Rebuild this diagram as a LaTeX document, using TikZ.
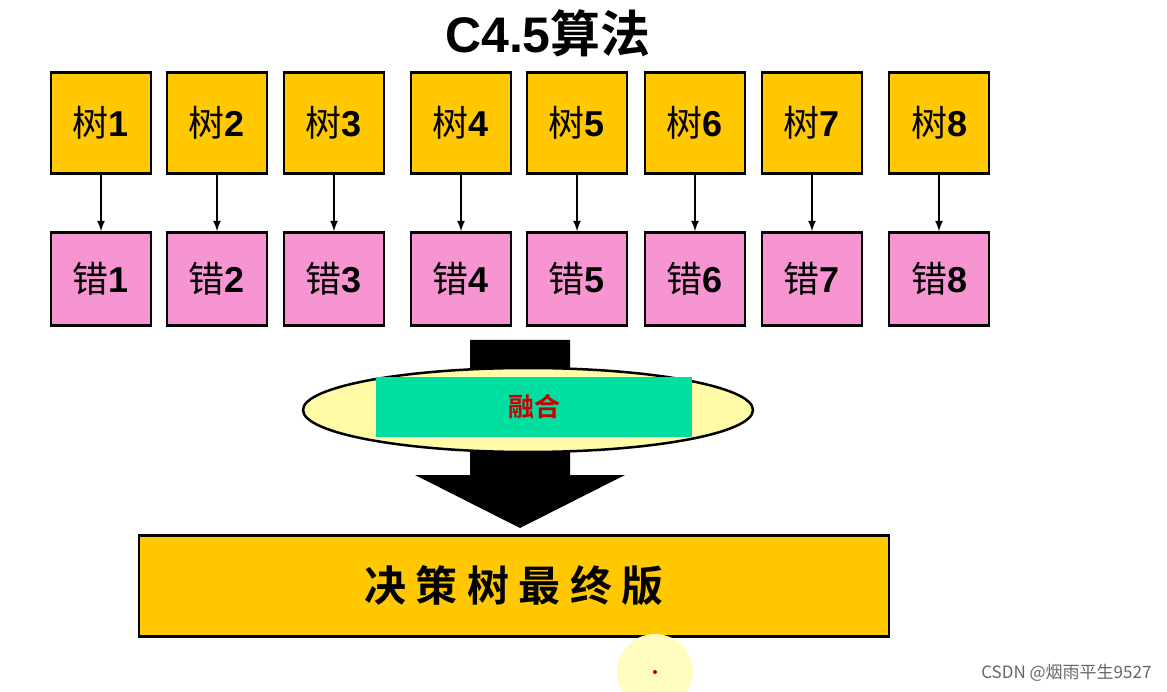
\documentclass[tikz,border=0pt]{standalone}
\usepackage{fontspec}
\usetikzlibrary{shapes.geometric}
\newfontfamily\cjk{Noto Sans CJK SC}[BoldFont=* Bold]
\newfontfamily\hd{Liberation Sans}
\begin{document}
\begin{tikzpicture}[x=1pt,y=-1pt,
  treebox/.style={draw=black,line width=2.5pt,minimum width=100pt,minimum height=101pt,inner sep=0pt,font=\cjk\fontsize{36}{36}\selectfont},
  errbox/.style={draw=black,line width=2.5pt,minimum width=100pt,minimum height=93pt,inner sep=0pt,font=\cjk\fontsize{36}{36}\selectfont},
  link/.style={-latex,line width=2.5pt}]
\useasboundingbox (0,0) rectangle (1167,692);
\fill[white] (0,0) rectangle (1167,692);
\definecolor{gold}{RGB}{255,200,0}
\definecolor{rose}{RGB}{247,148,210}
\definecolor{teal2}{RGB}{0,222,160}
\node[font=\hd\bfseries\fontsize{50}{50}\selectfont] (title) at (548,33) {C4.5{\cjk\bfseries 算法}};
\foreach \i/\x in {1/101,2/217,3/334,4/461,5/577,6/695,7/812,8/939}{
  \node[treebox,fill=gold] (t\i) at (\x,123) {树{\hd\bfseries\i}};
  \node[errbox,fill=rose] (e\i) at (\x,279) {错{\hd\bfseries\i}};
  \draw[link] (t\i) -- (e\i);
}
\fill[black] (470,340) -- (570,340) -- (570,475) -- (625,475) -- (520,528) -- (415,475) -- (470,475) -- cycle;
\node[draw=black,line width=2.5pt,ellipse,fill=yellow!35,minimum width=450pt,minimum height=84pt,inner sep=0pt] (ell) at (528,410) {};
\fill[black] (470,452) rectangle (570,476);
\node[fill=teal2,minimum width=316pt,minimum height=59pt,inner sep=0pt,text=red!80!black,font=\cjk\bfseries\fontsize{26}{26}\selectfont] (fuse) at (534,407) {融合};
\node[draw=black,line width=2.5pt,fill=gold,minimum width=750pt,minimum height=101pt,inner sep=0pt,font=\cjk\bfseries\fontsize{42}{42}\selectfont] (final) at (514,586) {决\ 策\ 树\ 最\ 终\ 版};
\fill[yellow!25] (655,672) circle (38);
\fill[red!70!black] (655,672) circle (2);
\node[anchor=east,text=gray!80!black,font=\cjk\fontsize{17}{17}\selectfont] (wm) at (1155,673) {CSDN @烟雨平生9527};
\end{tikzpicture}
\end{document}
